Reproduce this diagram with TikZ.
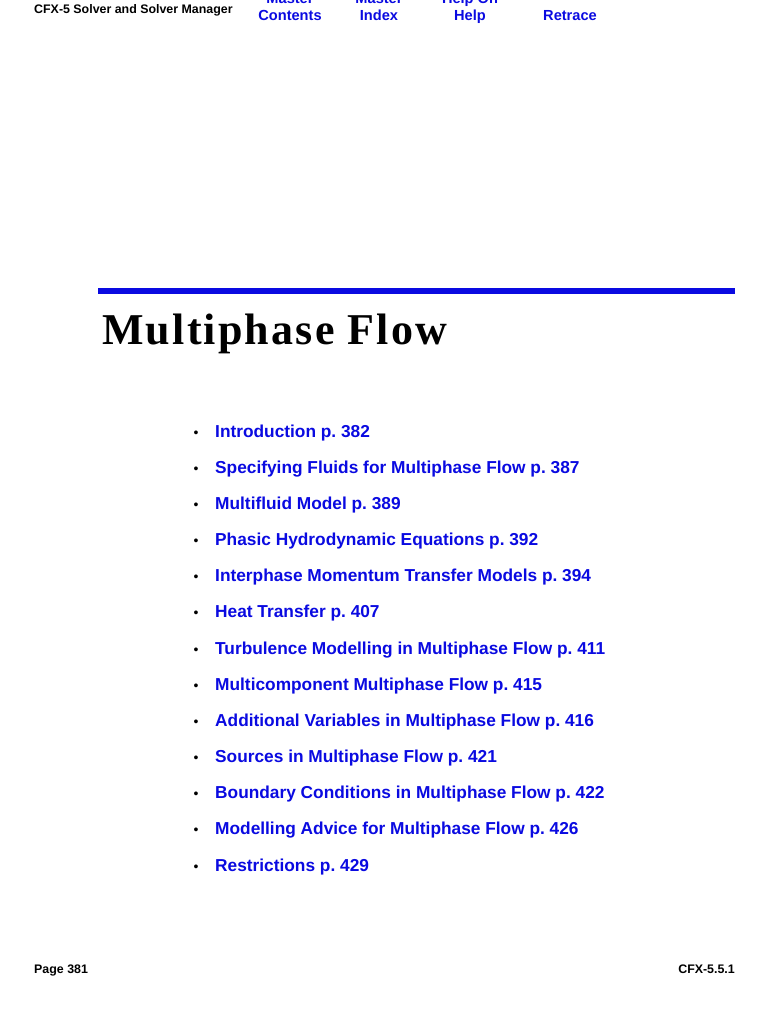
\documentclass[tikz,border=0pt]{standalone}
\usepackage{fontspec}
\setmainfont{Liberation Sans}
\newfontfamily\serifb[LetterSpace=5]{Liberation Serif}
\definecolor{linkblue}{RGB}{10,10,225}
\begin{document}
\frenchspacing
\begin{tikzpicture}[x=1pt,y=-1pt,
  hdr/.style={anchor=base west,font=\frenchspacing\bfseries\fontsize{12.4}{14}\selectfont,inner sep=0},
  navlink/.style={align=center,text=linkblue,font=\bfseries\fontsize{14.6}{17.5}\selectfont,inner sep=0,anchor=base},
  item/.style={anchor=base west,text=linkblue,font=\frenchspacing\bfseries\fontsize{17.3}{19}\selectfont,inner sep=0},
  bul/.style={anchor=base,font=\fontsize{14}{16}\selectfont,inner sep=0}]
\useasboundingbox (0,0) rectangle (768,1024);
\fill[white] (0,0) rectangle (768,1024);
\node[hdr] (h) at (34,14) {CFX-5 Solver and Solver Manager};
\node[navlink] (n1) at (290,21) {Master\\Contents};
\node[navlink] (n2) at (379,21) {Master\\Index};
\node[navlink] (n3) at (470,21) {Help On\\Help};
\node[navlink] (n4) at (570,21) {Retrace};
\fill[linkblue] (98,288) rectangle (735,294);
\node[anchor=base west,inner sep=0,font=\serifb\bfseries\fontsize{44}{50}\selectfont] (t) at (102,344) {Multiphase Flow};
\foreach \i/\txt in {0/Introduction p. 382,1/Specifying Fluids for Multiphase Flow p. 387,2/Multifluid Model p. 389,3/Phasic Hydrodynamic Equations p. 392,4/Interphase Momentum Transfer Models p. 394,5/Heat Transfer p. 407,6/Turbulence Modelling in Multiphase Flow p. 411,7/Multicomponent Multiphase Flow p. 415,8/Additional Variables in Multiphase Flow p. 416,9/Sources in Multiphase Flow p. 421,10/Boundary Conditions in Multiphase Flow p. 422,11/Modelling Advice for Multiphase Flow p. 426,12/Restrictions p. 429}{
  \node[bul] (b\i) at (196,437+36.17*\i) {•};
  \node[item] (i\i) at (215,437+36.17*\i) {\txt};
}
\node[hdr] (p) at (34,973) {Page 381};
\node[hdr,anchor=base east] (v) at (735,973) {CFX-5.5.1};
\end{tikzpicture}
\end{document}
